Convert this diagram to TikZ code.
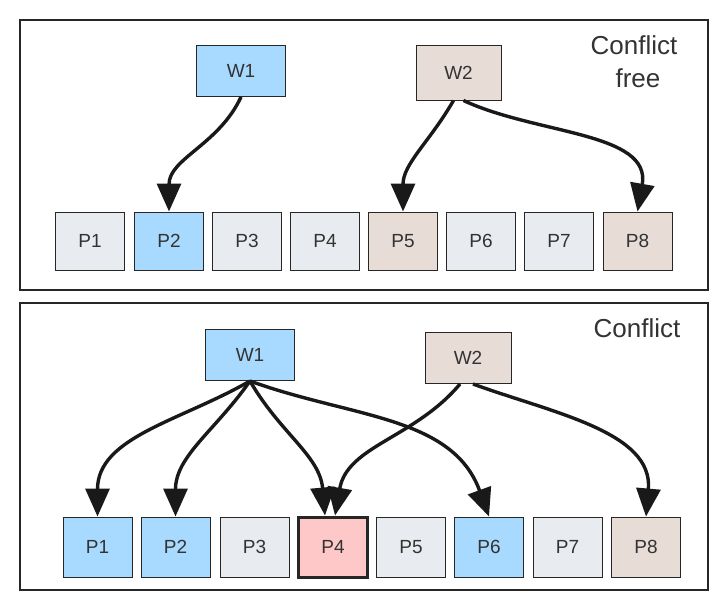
\documentclass[tikz,border=0pt]{standalone}
\usepackage{fontspec}
\setmainfont{Liberation Sans}
\usetikzlibrary{arrows.meta}
\definecolor{cb}{HTML}{A8DAFF}
\definecolor{cw}{HTML}{E8DCD6}
\definecolor{cg}{HTML}{E8ECF0}
\definecolor{cp}{HTML}{FFC8C8}
\definecolor{tx}{HTML}{333333}
\begin{document}
\begin{tikzpicture}[x=1pt,y=-1pt,
 box/.style={draw=black!85,line width=1pt,minimum width=69pt,minimum height=58pt,inner sep=0pt,font=\fontsize{19}{22}\selectfont,text=tx},
 wb/.style={draw=black!85,line width=1pt,minimum width=89pt,minimum height=51pt,inner sep=0pt,font=\fontsize{19}{22}\selectfont,text=tx},
 panel/.style={draw=black!85,line width=1.2pt},
 arr/.style={line width=3.4pt,black!90,-{Triangle[length=28pt,width=24pt]}},
 lab/.style={font=\fontsize{26}{33}\selectfont,text=tx,align=center}]
\useasboundingbox (0,0) rectangle (727,610);
\node[panel,minimum width=688pt,minimum height=270pt] (pt) at (364,155) {};
\node[panel,minimum width=688pt,minimum height=287pt] (pb) at (364,446.5) {};
\node[lab] (t1) at (634,45) {Conflict};
\node[lab] (t1b) at (638,78) {free};
\node[lab] (t2) at (637,328) {Conflict};
% top
\node[wb,fill=cb] (W1) at (241,71) {W1};
\node[wb,fill=cw,minimum width=85pt,minimum height=54pt] (W2) at (458.5,73) {W2};
\foreach \i/\x/\c in {1/90/cg,2/169/cb,3/247/cg,4/325/cg,5/403/cw,6/481/cg,7/559/cg,8/637.5/cw}
 \node[box,fill=\c] (P\i) at (\x,241) {P\i};
\draw[arr] (W1.south) to[out=-115,in=90] (P2.north);
\draw[arr] (W2.south) ++(-5,0) coordinate (a) (a) to[out=-120,in=90] (P5.north);
\draw[arr] (W2.south) ++(5,0) coordinate (b) (b) to[out=-25,in=80] (P8.north);
% bottom
\node[wb,fill=cb] (V1) at (250,355) {W1};
\node[wb,fill=cw,minimum width=86pt] (V2) at (468,358) {W2};
\foreach \i/\x/\c in {1/97.5/cb,2/175.5/cb,3/254.5/cg,5/411/cg,6/489/cb,7/567.5/cg,8/646/cw}
 \node[box,fill=\c,minimum height=60pt] (Q\i) at (\x,547) {P\i};
\node[box,fill=cp,minimum height=60pt,line width=3pt] (Q4) at (333,547) {P4};
\draw[arr] (V1.south) to[out=-150,in=90] (Q1.north);
\draw[arr] (V1.south) to[out=-125,in=90] (Q2.north);
\draw[arr] (V1.south) to[out=-60,in=95] ([xshift=-8pt]Q4.north);
\draw[arr] (V1.south) to[out=-20,in=110] (Q6.north);
\draw[arr] (V2.south) ++(-8,0) coordinate (c) (c) to[out=-130,in=80] ([xshift=2pt]Q4.north);
\draw[arr] (V2.south) ++(5,0) coordinate (d) (d) to[out=-20,in=85] (Q8.north);
\end{tikzpicture}
\end{document}
